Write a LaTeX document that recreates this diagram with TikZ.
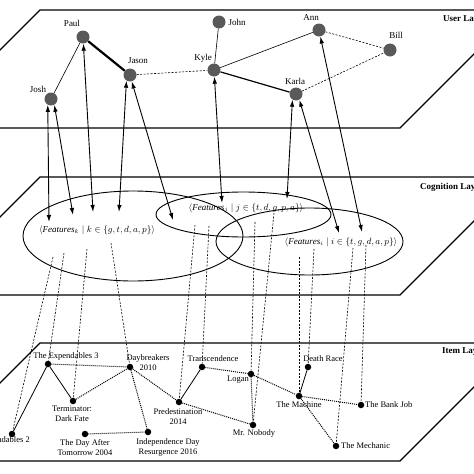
\documentclass[tikz,border=0pt]{standalone}
\usepackage{fontspec}
\setmainfont{Liberation Serif}
\usepackage{tikz}
\usetikzlibrary{shapes.geometric, arrows.meta}

\begin{document}
\begin{tikzpicture}[x=1pt, y=-1pt,
  layer/.style={line width=1.1pt},
  layertitle/.style={font=\fontsize{9}{10}\selectfont\bfseries, anchor=west, inner sep=0pt},
  user/.style={circle, fill=black!65, minimum size=13pt, inner sep=0pt},
  username/.style={font=\fontsize{9}{10}\selectfont, inner sep=0pt},
  tie/.style={line width=0.6pt},
  midtie/.style={line width=1.2pt},
  strongtie/.style={line width=2.2pt},
  weaktie/.style={line width=0.6pt, dash pattern=on 2pt off 1.5pt},
  biarrow/.style={{Latex[length=7pt,width=4.5pt]}-{Latex[length=7pt,width=4.5pt]}, line width=0.9pt},
  featring/.style={ellipse, draw, line width=0.9pt, inner sep=0pt},
  feattext/.style={font=\fontsize{9}{10}\selectfont, inner sep=0pt},
  movie/.style={circle, fill=black, minimum size=6.5pt, inner sep=0pt},
  moviename/.style={font=\fontsize{8.5}{10}\selectfont, align=center, inner sep=0pt},
  solidlink/.style={line width=0.8pt},
  dotlink/.style={line width=1pt, densely dotted},
  trace/.style={line width=0.6pt, dash pattern=on 2pt off 1.5pt}
]
  \useasboundingbox (0,0) rectangle (474,474);
  \clip (0,0) rectangle (474,474);

  % Layer planes
  \draw[layer] (40,10) -- (518,10) -- (400,128) -- (-78,128) -- cycle;
  \draw[layer] (40,177) -- (518,177) -- (400,295) -- (-78,295) -- cycle;
  \draw[layer] (40,343) -- (518,343) -- (400,461) -- (-78,461) -- cycle;
  \node[layertitle] (usertitle) at (443,20) {User Layer};
  \node[layertitle] (cogtitle) at (420,187) {Cognition Layer};
  \node[layertitle] (itemtitle) at (442,352) {Item Layer};

  % User layer
  \node[user] (paul) at (83,37) {};
  \node[user] (josh) at (51,99) {};
  \node[user] (jason) at (130,75) {};
  \node[user] (john) at (219,22) {};
  \node[user] (kyle) at (214,70) {};
  \node[user] (ann) at (319,30) {};
  \node[user] (bill) at (390,50) {};
  \node[user] (karla) at (296,94) {};
  \node[username] (paullbl) at (72,23) {Paul};
  \node[username] (joshlbl) at (38,89) {Josh};
  \node[username] (jasonlbl) at (138,61) {Jason};
  \node[username] (johnlbl) at (237,22) {John};
  \node[username] (kylelbl) at (203,58) {Kyle};
  \node[username] (annlbl) at (311,18) {Ann};
  \node[username] (billlbl) at (396,35) {Bill};
  \node[username] (karlalbl) at (295,81) {Karla};

  \draw[tie] (josh) -- (paul);
  \draw[strongtie] (paul) -- (jason);
  \draw[weaktie] (jason) -- (kyle);
  \draw[tie] (kyle) -- (john);
  \draw[tie] (kyle) -- (ann);
  \draw[midtie] (kyle) -- (karla);
  \draw[weaktie] (ann) -- (bill);
  \draw[weaktie] (karla) -- (bill);

  % Cognition layer
  \node[featring, minimum width=220pt, minimum height=90pt] (ringk) at (133,236) {};
  \node[featring, minimum width=175pt, minimum height=45pt] (ringj) at (243.5,214.5) {};
  \node[featring, minimum width=187pt, minimum height=67pt] (ringi) at (309.5,241.5) {};
  \node[feattext] (featk) at (97,230) {$\langle \mathit{Features}_k \mid k \in \{g, t, d, a, p\}\rangle$};
  \node[feattext] (featj) at (246,208) {$\langle \mathit{Features}_j \mid j \in \{t, d, g, p, a\}\rangle$};
  \node[feattext] (feati) at (341,242) {$\langle \mathit{Features}_i \mid i \in \{t, g, d, a, p\}\rangle$};

  % arrow ends in the cognition layer
  \coordinate (a1) at (49,222);
  \coordinate (a2) at (73,215);
  \coordinate (a3) at (93,212);
  \coordinate (a4) at (119,212);
  \coordinate (a5) at (173,220);
  \coordinate (a6) at (222,203);
  \coordinate (a7) at (287,199);
  \coordinate (a8) at (339,233);
  \coordinate (a9) at (362,232);

  \draw[biarrow] (josh.241) -- (a1);
  \draw[biarrow] (josh.300) -- (a2);
  \draw[biarrow] (paul) -- (a3);
  \draw[biarrow] (jason.238) -- (a4);
  \draw[biarrow] (jason.285) -- (a5);
  \draw[biarrow] (kyle) -- (a6);
  \draw[biarrow] (karla.238) -- (a7);
  \draw[biarrow] (karla.300) -- (a8);
  \draw[biarrow] (ann) -- (a9);

  % Item layer
  \node[movie] (exp2) at (12,434) {};
  \node[movie] (exp3) at (48,364) {};
  \node[movie] (term) at (73,401) {};
  \node[movie] (dayb) at (130,367) {};
  \node[movie] (dayafter) at (85,434) {};
  \node[movie] (indep) at (148,432) {};
  \node[movie] (predest) at (179,402) {};
  \node[movie] (transc) at (202,367) {};
  \node[movie] (logan) at (251,374) {};
  \node[movie] (nobody) at (253,425) {};
  \node[movie] (machine) at (299,396) {};
  \node[movie] (death) at (308,367) {};
  \node[movie] (bankjob) at (361,405) {};
  \node[movie] (mechanic) at (336,446) {};

  \node[moviename, anchor=east] (exp2lbl) at (30,440) {The Expendables 2};
  \node[moviename] (exp3lbl) at (66,356) {The Expendables 3};
  \node[moviename] (termlbl) at (72,414) {Terminator:\\Dark Fate};
  \node[moviename] (dayblbl) at (148,363) {Daybreakers\\2010};
  \node[moviename] (dayafterlbl) at (85,448) {The Day After\\Tomorrow 2004};
  \node[moviename] (indeplbl) at (168,447) {Independence Day\\Resurgence 2016};
  \node[moviename] (predestlbl) at (178,417) {Predestination\\2014};
  \node[moviename] (transclbl) at (213,359) {Transcendence};
  \node[moviename] (loganlbl) at (238,380) {Logan};
  \node[moviename] (nobodylbl) at (254,433) {Mr. Nobody};
  \node[moviename] (machinelbl) at (299,405) {The Machine};
  \node[moviename] (deathlbl) at (323,359) {Death Race};
  \node[moviename, anchor=west] (bankjoblbl) at (365,405) {The Bank Job};
  \node[moviename, anchor=west] (mechaniclbl) at (341,446) {The Mechanic};

  \draw[solidlink] (exp2) -- (exp3);
  \draw[solidlink] (exp3) -- (term);
  \draw[dotlink] (exp3) -- (dayb);
  \draw[dotlink] (term) -- (dayb);
  \draw[dotlink] (dayb) -- (indep);
  \draw[dotlink] (dayafter) -- (indep);
  \draw[dotlink] (dayb) -- (predest);
  \draw[solidlink] (predest) -- (transc);
  \draw[dotlink] (predest) -- (nobody);
  \draw[dotlink] (transc) -- (logan);
  \draw[dotlink] (logan) -- (nobody);
  \draw[dotlink] (logan) -- (machine);
  \draw[solidlink] (machine) -- (death);
  \draw[dotlink] (machine) -- (bankjob);
  \draw[dotlink] (machine) -- (mechanic);

  % traces from the cognition layer down to the items
  \coordinate (t1) at (53,257);
  \coordinate (t2) at (64,253);
  \coordinate (t3) at (87,249);
  \coordinate (t4) at (111,243);
  \coordinate (t5) at (195,225);
  \coordinate (t6) at (209,226);
  \coordinate (t7) at (255,222);
  \coordinate (t8) at (274,213);
  \coordinate (t9) at (299,257);
  \coordinate (t10) at (314,249);
  \coordinate (t11) at (353,248);
  \coordinate (t12) at (366,245);

  \draw[trace] (t1) -- (exp2);
  \draw[trace] (t2) -- (exp3);
  \draw[trace] (t3) -- (term);
  \draw[trace] (t4) -- (dayb);
  \draw[trace] (t5) -- (predest);
  \draw[trace] (t6) -- (transc);
  \draw[trace] (t7) -- (logan);
  \draw[trace] (t8) -- (nobody);
  \draw[trace] (t9) -- (machine);
  \draw[trace] (t10) -- (death);
  \draw[trace] (t11) -- (mechanic);
  \draw[trace] (t12) -- (bankjob);
\end{tikzpicture}
\end{document}
